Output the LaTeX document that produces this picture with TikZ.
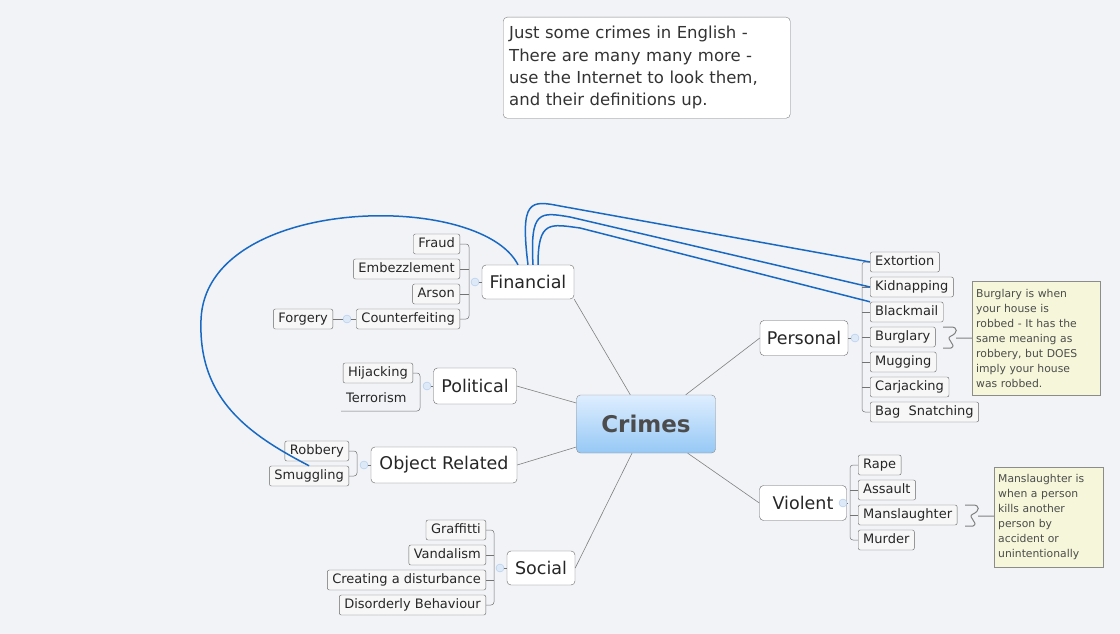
\documentclass[tikz,border=0pt]{standalone}
\usepackage{fontspec}
\setmainfont{DejaVu Sans}
\definecolor{bg}{RGB}{241,243,247}
\definecolor{lk}{RGB}{25,105,195}
\definecolor{ctop}{RGB}{222,238,255}
\definecolor{cbot}{RGB}{150,200,245}
\definecolor{hubc}{RGB}{170,200,235}
\definecolor{notec}{RGB}{246,246,218}
\begin{document}
\begin{tikzpicture}[x=1pt,y=-1pt,
 leaf/.style={draw=black!60,fill=black!3,rounded corners=2pt,font=\fontsize{13}{15}\selectfont,inner sep=0pt,minimum height=20pt,text height=9.5pt,text depth=3pt,anchor=west,inner xsep=5pt,text=black!85},
 main/.style={draw=black!60,fill=white,rounded corners=4pt,font=\fontsize{17.5}{20}\selectfont,text=black!85,minimum height=34pt,inner xsep=6pt},
 note/.style={draw=black!45,fill=notec,font=\fontsize{10.8}{15}\selectfont,text=black!70,align=left,anchor=north west,inner sep=4pt},
 tie/.style={draw=black!55,line width=0.5pt},
 hub/.style={circle,draw=hubc,fill=hubc!40,minimum size=8pt,inner sep=0pt},
 link/.style={draw=lk,line width=1.5pt},
 spoke/.style={draw=black!50,line width=0.6pt}]
\useasboundingbox[fill=bg] (0,0) rectangle (1120,634);
% title
\node[draw=black!50,fill=white,rounded corners=4pt,anchor=north west,minimum width=287pt,minimum height=101pt,align=left,font=\fontsize{16.5}{22.3}\selectfont,text=black!80,text width=275pt,inner xsep=6pt] (title) at (503,17) {Just some crimes in English -\\There are many many more -\\use the Internet to look them,\\and their definitions up.};
% center
\node[draw=black!45,rounded corners=4pt,top color=ctop,bottom color=cbot,minimum width=139pt,minimum height=58pt,font=\bfseries\fontsize{23}{26}\selectfont,text=black!70] (crimes) at (646,424) {Crimes};
\node[main,minimum width=92pt] (fin) at (528,282) {Financial};
\node[main,minimum width=83pt,minimum height=36pt] (pol) at (475,386) {Political};
\node[main,minimum width=146pt,minimum height=36pt] (obj) at (444,465) {Object Related};
\node[main,minimum width=68pt] (soc) at (541,568) {Social};
\node[main,minimum width=88pt,minimum height=35pt] (per) at (804,338) {Personal};
\node[main,minimum width=87pt,minimum height=35pt] (vio) at (803,503) {Violent};
\draw[spoke] (crimes.north west)++(54,0) -- (fin.south east);
\draw[spoke] (crimes.west)++(0,-21) -- (pol.east);
\draw[spoke] (crimes.west)++(0,23) -- (obj.east);
\draw[spoke] (crimes.south)++(-14,0) -- (soc.east);
\draw[spoke] (crimes.north east)++(-30,0) -- (per.west);
\draw[spoke] (crimes.south east)++(-28,0) -- (vio.west);
% financial leaves
\node[leaf,anchor=east] (fraud) at (460,244) {Fraud};
\node[leaf,anchor=east] (emb) at (460,269) {Embezzlement};
\node[leaf,anchor=east] (arson) at (460,294) {Arson};
\node[leaf,anchor=east] (cnt) at (460,319) {Counterfeiting};
\node[leaf,anchor=east] (forg) at (333,319) {Forgery};
\node[hub] (hf) at (475,282) {};
\node[hub] (hc) at (347,319) {};
\draw[tie,rounded corners=3pt] (fraud.east) -| (469,319) -- (cnt.east);
\draw[tie] (emb.east) -- (469,269) (arson.east) -- (469,294) (hf) -- (fin.west);
\draw[tie] (forg.east) -- (hc) -- (cnt.west);
% political
\node[leaf,anchor=east] (hij) at (413,373) {Hijacking};
\node[font=\fontsize{13}{15}\selectfont,anchor=west,text=black!85,inner xsep=5pt] (ter) at (341,398) {Terrorism};
\node[hub] (hp) at (427,386) {};
\draw[tie,rounded corners=3pt] (hij.east) -| (420,411) -- (341,411);
\draw[tie] (hp) -- (pol.west);
% object
\node[leaf,anchor=east] (rob) at (349,451) {Robbery};
\node[leaf,anchor=east] (smug) at (349,476) {Smuggling};
\node[hub] (ho) at (364,465) {};
\draw[tie,rounded corners=3pt] (rob.east) -| (357,476) -- (smug.east);
\draw[tie] (ho) -- (obj.west);
% social
\node[leaf,anchor=east] (graf) at (486,530) {Graffitti};
\node[leaf,anchor=east] (van) at (486,555) {Vandalism};
\node[leaf,anchor=east] (dist) at (486,580) {Creating a disturbance};
\node[leaf,anchor=east] (dis) at (486,605) {Disorderly Behaviour};
\node[hub] (hs) at (500,568) {};
\draw[tie,rounded corners=3pt] (graf.east) -| (494,605) -- (dis.east);
\draw[tie] (van.east) -- (494,555) (dist.east) -- (494,580) (hs) -- (soc.west);
% personal
\node[leaf] (ext) at (870,262) {Extortion};
\node[leaf] (kid) at (870,287) {Kidnapping};
\node[leaf] (bla) at (870,312) {Blackmail};
\node[leaf] (bur) at (870,337) {Burglary};
\node[leaf] (mug) at (870,362) {Mugging};
\node[leaf] (car) at (870,387) {Carjacking};
\node[leaf] (bag) at (870,412) {Bag\ \ Snatching};
\node[hub] (hpe) at (855,338) {};
\draw[tie,rounded corners=3pt] (ext.west) -| (862,412) -- (bag.west);
\draw[tie] (kid.west) -- (862,287) (bla.west) -- (862,312) (bur.west) -- (862,337) (mug.west) -- (862,362) (car.west) -- (862,387) (hpe) -- (per.east);
% violent
\node[leaf] (rape) at (858,465) {Rape};
\node[leaf] (ass) at (858,490) {Assault};
\node[leaf] (man) at (858,515) {Manslaughter};
\node[leaf] (mur) at (858,540) {Murder};
\node[hub] (hv) at (843,503) {};
\draw[tie,rounded corners=3pt] (rape.west) -| (850,540) -- (mur.west);
\draw[tie] (ass.west) -- (850,490) (man.west) -- (850,515) (hv) -- (vio.east);
% notes
\node[note,text width=120pt,minimum height=114pt] (n1) at (972,281) {Burglary is when\\your house is\\robbed - It has the\\same meaning as\\robbery, but DOES\\imply your house\\was robbed.};
\node[note,text width=101pt,minimum height=100pt] (n2) at (994,467) {Manslaughter is\\when a person\\kills another\\person by\\accident or\\unintentionally};
\draw[black!50,line width=1pt] (943,327) -- (951,327) .. controls (958,327) and (958,333) .. (951,336) .. controls (944,339) and (958,345) .. (951,348) -- (943,348) (956,338) -- (n1.west |- 0,338);
\draw[black!50,line width=1pt] (965,505) -- (973,505) .. controls (980,505) and (980,511) .. (973,514) .. controls (966,517) and (980,523) .. (973,526) -- (965,526) (978,516) -- (n2.west |- 0,516);
% relationships
\draw[link] (fin.north)++(-10,0) .. controls (480,190) and (205,195) .. (201,320) .. controls (198,400) and (250,435) .. (smug.north);
\draw[link] (fin.north)++(0,0) .. controls (520,200) and (530,200) .. (560,206) -- (ext.west);
\draw[link] (fin.north)++(5,0) .. controls (530,210) and (540,212) .. (570,217) -- (kid.west);
\draw[link] (fin.north)++(10,0) .. controls (538,220) and (550,224) .. (580,228) -- (bla.north west);
\end{tikzpicture}
\end{document}
